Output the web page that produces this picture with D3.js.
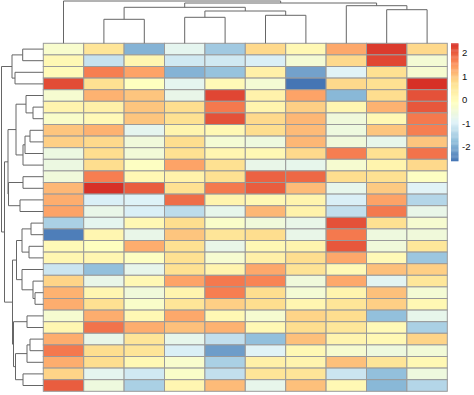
<!DOCTYPE html>
<html>
<head>
<meta charset="utf-8">
<script src="https://cdn.jsdelivr.net/npm/d3@7"></script>
<style>
  body { margin: 0; background: #fff; }
  text { font-family: "Liberation Sans", Arial, sans-serif; }
</style>
</head>
<body>
<div id="chart"></div>
<script>
// Values per column (top to bottom, in displayed row order).
var s1 = [-0.3, 0.1, 0.0, 2.15, -0.35, 0.2, -0.25, 1.0, 0.9, -0.6, -0.6, -0.5, 1.15, 1.25, 1.35, -1.5, -2.5, 0.05, 0.15, -1.15, 0.85, 1.2, 1.25, -0.35, 0.15, 1.25, 1.75, 1.25, 0.85, 2.0];
var s2 = [0.6, -1.2, 1.7, 0.7, 1.2, 0.3, 0.05, 1.2, 0.8, 0.75, 0.75, 1.7, 2.4, -1.0, -0.7, -0.8, 0.15, -0.1, 0.15, -1.75, -0.7, 0.15, 0.7, 1.25, 1.8, -0.7, 0.75, 0.75, -0.8, -0.55];
var s3 = [-1.9, 0.15, 1.35, -0.1, 1.0, 1.0, 1.0, -0.8, -0.5, -0.45, -0.15, 0.1, 2.0, -0.95, -1.0, 0.1, -0.7, 1.25, -0.15, -0.75, 0.1, -0.5, -0.25, 0.1, 1.25, 0.6, 0.6, 0.1, -1.1, -1.5];
var s4 = [-0.8, -1.1, -1.9, -0.8, -0.7, 0.75, 0.7, 0.2, 0.75, 0.7, 1.35, 0.25, 0.7, 1.85, -1.3, 0.75, 1.0, 0.7, 0.7, 0.7, 1.35, 0.2, 0.6, 1.3, 1.05, -0.75, -1.0, -0.3, -0.25, 0.15];
var s5 = [-1.6, -1.1, -1.7, 0.05, 2.2, 1.75, 2.1, 0.1, -0.4, 0.15, 0.7, 0.7, 1.75, 0.2, -0.75, -0.25, 0.6, -0.7, -0.35, 0.2, 1.75, 1.7, 0.9, 0.1, 1.2, -1.25, -2.15, -1.5, -1.25, 1.1];
var s6 = [0.8, -1.0, 0.3, -0.4, 0.25, 0.2, 0.8, 0.75, -0.55, 0.1, -0.7, 1.95, 2.0, 0.1, 1.15, -0.5, 0.75, 0.1, 0.3, 1.3, 1.65, 0.75, 0.75, -0.35, 0.1, -1.75, -0.9, 0.3, 0.6, -0.75];
var s7 = [0.1, -0.4, -2.1, -2.6, 1.35, 0.9, 1.15, 1.1, 1.15, 0.8, -0.75, 1.9, 1.1, 0.2, 0.25, -0.7, -0.7, 0.2, 0.75, 0.65, -0.5, -0.4, 0.15, 0.85, 0.75, 1.05, 0.1, 0.2, 0.6, 1.05];
var s8 = [1.3, 0.8, -0.9, 0.8, -1.85, 0.15, -0.5, -0.55, -0.5, 1.7, -0.35, 0.75, -0.75, -1.0, -1.25, 2.1, 1.75, 2.05, 1.3, 0.05, 1.3, 0.2, 0.6, 0.75, 0.55, 0.2, -0.35, 1.05, -1.15, 0.1];
var s9 = [2.3, 2.2, 0.7, 0.7, 0.75, 1.2, 0.1, 1.0, -0.75, 0.7, 0.2, 0.7, 0.95, 1.35, 1.75, 0.7, -0.55, -0.5, 0.05, 1.05, -0.85, 1.05, 0.9, -1.75, 0.05, 0.1, -0.55, 0.6, -1.75, -1.85];
var s10 = [0.8, -0.4, -0.35, 2.4, 2.1, 2.05, 1.75, 1.7, 1.0, 1.8, 0.8, -0.15, -0.9, -1.4, -0.7, -0.35, -0.5, 0.55, -1.65, 0.9, 0.55, -0.4, 0.1, -0.75, -1.5, 0.85, -0.45, 0.1, -0.55, -1.4];

// Column clustering, hclust style: negative = leaf (display position + 1), positive = earlier merge.
var colMergeL = [-2, -4, -6, 2, 1, -9, -8, 5, -1];
var colMergeR = [-3, -5, -7, 3, 4, -10, 6, 7, 8];
var colMergeH = [24, 26, 28, 32.3, 36, 33.6, 37.6, 40.3, 42.3];

// Row clustering, same encoding.
var rowMergeL = [-1, -3, 1, -6, -5, -8, 6, 7, 5, -12, -14, 10, 9, -16, -18, 14, -22, -21, -20, 16, -24, -26, 22, -29, 23, 21, 20, 13, 3];
var rowMergeR = [-2, -4, 2, -7, 4, -9, -10, -11, 8, -13, -15, 11, 12, -17, -19, 15, -23, 17, 18, 19, -25, -27, -28, -30, 24, 25, 26, 27, 28];
var rowMergeH = [20.6, 28.3, 31.3, 10.3, 17.3, 13.3, 18.3, 20.3, 27.3, 20.3, 23.3, 34.8, 35.3, 12.3, 14.3, 21.3, 8.3, 10.3, 21.3, 26.8, 16.3, 13.3, 16.3, 20.3, 27.8, 29.8, 30.8, 38.8, 41.8];

var legendTicks = [2, 1, 0, -1, -2];

var width = 474;
var height = 395;
var grid = {x: 43.3, y: 43.3, w: 404, h: 348};
var leg = {x: 451, y: 43.3, w: 7.5, h: 117.7};

var samples = [s1, s2, s3, s4, s5, s6, s7, s8, s9, s10];
var nCol = samples.length;
var nRow = s1.length;

var svg = d3.select("#chart").append("svg")
    .attr("width", width)
    .attr("height", height);

var x = d3.scaleBand().domain(d3.range(nCol)).range([grid.x, grid.x + grid.w]);
var y = d3.scaleBand().domain(d3.range(nRow)).range([grid.y, grid.y + grid.h]);

// pheatmap default: rev(RdYlBu 7) spread between data min and max
var ext = d3.extent(d3.merge(samples));
var palette = ["#4575B4", "#91BFDB", "#E0F3F8", "#FFFFBF", "#FEE090", "#FC8D59", "#D73027"];
var color = d3.scaleLinear()
    .domain(palette.map(function(c, i) { return ext[0] + i * (ext[1] - ext[0]) / (palette.length - 1); }))
    .range(palette);

var cells = [];
samples.forEach(function(col, c) {
  col.forEach(function(v, r) { cells.push({r: r, c: c, v: v}); });
});

svg.append("g").selectAll("rect")
    .data(cells)
    .enter().append("rect")
    .attr("x", function(d) { return x(d.c); })
    .attr("y", function(d) { return y(d.r); })
    .attr("width", x.bandwidth())
    .attr("height", y.bandwidth())
    .attr("fill", function(d) { return color(d.v); })
    .attr("stroke", "#9a9a9a")
    .attr("stroke-width", 1);

// Turn merge table into segments: each node sits at mean of its two children.
function buildTree(mL, mR, mH, leafPos) {
  var nodes = [];
  function get(k) { return k < 0 ? {p: leafPos(-k - 1), h: 0} : nodes[k - 1]; }
  return mL.map(function(l, i) {
    var a = get(l), b = get(mR[i]);
    var n = {p: (a.p + b.p) / 2, h: mH[i]};
    nodes.push(n);
    return {a: a, b: b, n: n};
  });
}

var colH = d3.scaleLinear().domain([0, d3.max(colMergeH)]).range([grid.y, 1]);
var colTree = buildTree(colMergeL, colMergeR, colMergeH, function(i) { return x(i) + x.bandwidth() / 2; });

svg.append("g").selectAll("path")
    .data(colTree)
    .enter().append("path")
    .attr("d", function(d) {
      return "M" + d.a.p + "," + colH(d.a.h) + "V" + colH(d.n.h) + "H" + d.b.p + "V" + colH(d.b.h);
    })
    .attr("fill", "none")
    .attr("stroke", "#666")
    .attr("stroke-width", 1);

var rowH = d3.scaleLinear().domain([0, d3.max(rowMergeH)]).range([grid.x, 1.5]);
var rowTree = buildTree(rowMergeL, rowMergeR, rowMergeH, function(i) { return y(i) + y.bandwidth() / 2; });

svg.append("g").selectAll("path")
    .data(rowTree)
    .enter().append("path")
    .attr("d", function(d) {
      return "M" + rowH(d.a.h) + "," + d.a.p + "H" + rowH(d.n.h) + "V" + d.b.p + "H" + rowH(d.b.h);
    })
    .attr("fill", "none")
    .attr("stroke", "#666")
    .attr("stroke-width", 1);

// Legend: colour bar + labels
var legY = d3.scaleLinear().domain(ext).range([leg.y + leg.h, leg.y]);
var steps = d3.range(100);
var legG = svg.append("g");
legG.selectAll("rect")
    .data(steps)
    .enter().append("rect")
    .attr("x", leg.x)
    .attr("y", function(i) { return leg.y + leg.h - (i + 1) * leg.h / steps.length; })
    .attr("width", leg.w)
    .attr("height", leg.h / steps.length + 0.3)
    .attr("fill", function(i) { return color(ext[0] + (i + 0.5) * (ext[1] - ext[0]) / steps.length); });

legG.selectAll("text")
    .data(legendTicks)
    .enter().append("text")
    .attr("x", leg.x + leg.w + 3.5)
    .attr("y", function(d) { return legY(d); })
    .attr("dy", "0.35em")
    .attr("font-size", "9.5px")
    .attr("fill", "#111")
    .text(function(d) { return d; });
</script>
</body>
</html>
